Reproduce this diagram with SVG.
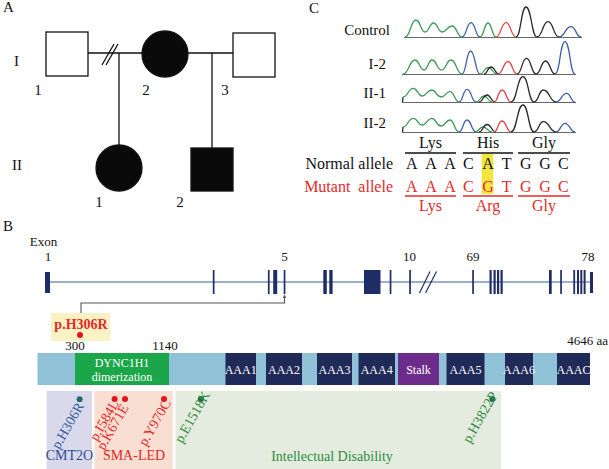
<svg xmlns="http://www.w3.org/2000/svg" width="609" height="469" viewBox="0 0 609 469" font-family="'Liberation Serif', 'Times New Roman', serif">
<style>
text{font-family:"Liberation Serif","Times New Roman",serif;}
.lbl{font-size:15px;fill:#111;}
.ped{stroke:#111;stroke-width:1.3;fill:none;}
.aff{fill:#0a0a0a;stroke:#111;stroke-width:1.3;}
.unaff{fill:#fff;stroke:#111;stroke-width:1.3;}
.tr path{fill:none;stroke-width:1.3;stroke-linejoin:round;}
.g{stroke:#3f9a5a;}
.b{stroke:#3e5fae;}
.r{stroke:#e0474a;}
.k{stroke:#2a2a2a;}
.base{stroke:#666;stroke-width:1.2;}
.seq{font-size:16px;text-anchor:middle;}
.exon{fill:#1f2d66;}
.dom{fill:#1f2a58;}
.wt{fill:#fff;font-size:12px;text-anchor:middle;}
.mut{font-size:14px;}
</style>

<!-- Panel A -->
<text x="3" y="12" class="lbl">A</text>
<text x="14" y="66" class="lbl">I</text>
<text x="12" y="170" class="lbl">II</text>
<g id="connectors-pedigree">
  <line x1="88" y1="53" x2="233" y2="53" class="ped"/>
  <line x1="102" y1="65" x2="114" y2="44" class="ped"/>
  <line x1="106" y1="65" x2="118" y2="44" class="ped"/>
  <line x1="119" y1="53" x2="119" y2="146" class="ped"/>
  <line x1="212" y1="53" x2="212" y2="148" class="ped"/>
</g>
<g id="I-1"><rect x="46" y="32" width="42" height="44" class="unaff"/><text x="38" y="95" class="lbl" text-anchor="middle">1</text></g>
<g id="I-2"><circle cx="165" cy="54" r="23" class="aff"/><text x="146" y="95" class="lbl" text-anchor="middle">2</text></g>
<g id="I-3"><rect x="233" y="33" width="42" height="44" class="unaff"/><text x="225" y="95" class="lbl" text-anchor="middle">3</text></g>
<g id="II-1"><circle cx="119" cy="168" r="23" class="aff"/><text x="99" y="207" class="lbl" text-anchor="middle">1</text></g>
<g id="II-2"><rect x="191" y="148" width="42" height="43" class="aff"/><text x="180" y="207" class="lbl" text-anchor="middle">2</text></g>

<!-- Panel C -->
<text x="309" y="13" class="lbl">C</text>
<g class="lbl" font-size="15" text-anchor="end">
  <text x="390" y="35" text-anchor="end">Control</text>
  <text x="386" y="69" text-anchor="end">I-2</text>
  <text x="386" y="98" text-anchor="end">II-1</text>
  <text x="386" y="128" text-anchor="end">II-2</text>
</g>
<g id="trace-control" class="tr">
  <line x1="404" y1="37.5" x2="582" y2="37.5" class="base"/>
  <path class="g" d="M405 37 C410.5 37 410.5 20 416 20 C420.5 20 420.5 32 425 32"/>
  <path class="g" d="M425 32 C429.3 32 429.3 23 433.5 23 C437.8 23 437.8 32 442 32"/>
  <path class="g" d="M442 32 C447 32 447 26 452 26 C457 26 457 37 462 37"/>
  <path class="b" d="M462 37 C466.5 37 466.5 22.7 471 22.7 C475.5 22.7 475.5 37 480 37"/>
  <path class="g" d="M480 37 C484 37 484 23 488 23 C492 23 492 37 496 37"/>
  <path class="r" d="M496 37 C501 37 501 22.7 506 22.7 C511 22.7 511 37 516 37"/>
  <path class="k" d="M516 37 C521 37 521 7 526 7 C531.5 7 531.5 37 537 37"/>
  <path class="k" d="M537 37 C542.5 37 542.5 21.7 548 21.7 C553.5 21.7 553.5 37 559 37"/>
  <path class="b" d="M559 37 C565 37 565 26.7 571 26.7 C576 26.7 576 37 581 37"/>
</g>
<g id="trace-I-2" class="tr">
  <line x1="402" y1="74.5" x2="576" y2="74.5" class="base"/>
  <path class="g" d="M403 74 C409 74 409 60 415 60 C419.5 60 419.5 70 424 70"/>
  <path class="g" d="M424 70 C428 70 428 60 432 60 C436.8 60 436.8 70 441.5 70"/>
  <path class="g" d="M441.5 70 C446.3 70 446.3 60 451 60 C456.5 60 456.5 74 462 74"/>
  <path class="b" d="M462 74 C466.3 74 466.3 51 470.5 51 C475.3 51 475.3 74 480 74"/>
  <path class="g" d="M480 74 C484 74 484 67.5 488 67.5 C492.5 67.5 492.5 74 497 74"/>
  <path class="k" d="M484 74 C487.5 74 487.5 67 491 67 C495 67 495 74 499 74"/>
  <path class="r" d="M498 74 C503 74 503 61.5 508 61.5 C512.5 61.5 512.5 74 517 74"/>
  <path class="k" d="M517 74 C521.8 74 521.8 58.3 526.5 58.3 C531.3 58.3 531.3 74 536 74"/>
  <path class="k" d="M536 74 C540.8 74 540.8 61 545.5 61 C550.3 61 550.3 74 555 74"/>
  <path class="b" d="M555 74 C560 74 560 41.7 565 41.7 C570 41.7 570 74 575 74"/>
</g>
<g id="trace-II-1" class="tr">
  <line x1="402" y1="102.5" x2="576" y2="102.5" class="base"/>
  <path class="k" d="M402.5 102 L403 97"/>
  <path class="g" d="M403 97 C408 97 408 88.3 413.3 88.3 C417.7 88.3 417.7 96 422 96"/>
  <path class="g" d="M422 96 C427 96 427 90 431.7 90 C436.3 90 436.3 97 441 97"/>
  <path class="g" d="M441 97 C445.5 97 445.5 91.7 450 91.7 C454.5 91.7 454.5 102 459 102"/>
  <path class="b" d="M459 102 C463 102 463 89.3 467 89.3 C471.5 89.3 471.5 102 476 102"/>
  <path class="g" d="M476 102 C480 102 480 96 484 96 C488 96 488 102 492 102"/>
  <path class="k" d="M479 102 C483 102 483 95 487 95 C491 95 491 102 495 102"/>
  <path class="r" d="M494 102 C498 102 498 90 502 90 C506.5 90 506.5 102 511 102"/>
  <path class="k" d="M511 102 C517 102 517 76.7 523 76.7 C528.5 76.7 528.5 102 534 102"/>
  <path class="k" d="M534 102 C538.7 102 538.7 90 543.3 90 C549.7 90 549.7 102 556 102"/>
  <path class="b" d="M556 102 C561.3 102 561.3 93.3 566.7 93.3 C570.9 93.3 570.9 102 575 102"/>
</g>
<g id="trace-II-2" class="tr">
  <line x1="402" y1="132.5" x2="576" y2="132.5" class="base"/>
  <path class="k" d="M402.5 132 L403 127"/>
  <path class="g" d="M403 127 C408 127 408 118.3 413.3 118.3 C417.7 118.3 417.7 125 422 125"/>
  <path class="g" d="M422 125 C427 125 427 118.3 431.7 118.3 C436.3 118.3 436.3 126 441 126"/>
  <path class="g" d="M441 126 C445.5 126 445.5 120 450 120 C454.5 120 454.5 132 459 132"/>
  <path class="b" d="M459 132 C463 132 463 120 467 120 C471.5 120 471.5 132 476 132"/>
  <path class="g" d="M475 132 C479 132 479 127 483 127 C487.5 127 487.5 132 492 132"/>
  <path class="k" d="M479 132 C483 132 483 124.5 487 124.5 C491.5 124.5 491.5 132 496 132"/>
  <path class="r" d="M494 132 C498 132 498 121 502 121 C506.5 121 506.5 132 511 132"/>
  <path class="k" d="M511 132 C517 132 517 105 523 105 C528.5 105 528.5 132 534 132"/>
  <path class="k" d="M534 132 C538.7 132 538.7 121.7 543.3 121.7 C549.7 121.7 549.7 132 556 132"/>
  <path class="b" d="M556 132 C560.5 132 560.5 123.3 565 123.3 C570 123.3 570 132 575 132"/>
</g>
<g id="codons">
  <rect x="481.7" y="153.5" width="11.6" height="40.5" fill="#f2e53e"/>
  <g class="seq" fill="#111">
    <text x="430.5" y="147.5">Lys</text>
    <text x="488" y="147.5">His</text>
    <text x="544" y="147.5">Gly</text>
  </g>
  <g stroke="#111" stroke-width="1.6">
    <line x1="405" y1="153" x2="456" y2="153"/>
    <line x1="463" y1="153" x2="513" y2="153"/>
    <line x1="518" y1="153" x2="570" y2="153"/>
  </g>
  <text x="393" y="169" font-size="16" text-anchor="end" fill="#111">Normal allele</text>
  <g class="seq" fill="#111">
    <text x="411.7" y="169">A</text><text x="431" y="169">A</text><text x="450" y="169">A</text>
    <text x="468.3" y="169">C</text><text x="488" y="169">A</text><text x="506.7" y="169">T</text>
    <text x="525.7" y="169">G</text><text x="545" y="169">G</text><text x="563.3" y="169">C</text>
  </g>
  <text x="393" y="191.5" font-size="16" text-anchor="end" fill="#e52a2a" xml:space="preserve">Mutant  allele</text>
  <g class="seq" fill="#e52a2a">
    <text x="411.7" y="191.5">A</text><text x="431" y="191.5">A</text><text x="450" y="191.5">A</text>
    <text x="468.3" y="191.5">C</text><text x="488" y="191.5">G</text><text x="506.7" y="191.5">T</text>
    <text x="525.7" y="191.5">G</text><text x="545" y="191.5">G</text><text x="563.3" y="191.5">C</text>
  </g>
  <g stroke="#e52a2a" stroke-width="1.6">
    <line x1="405" y1="196" x2="456" y2="196"/>
    <line x1="463" y1="196" x2="513" y2="196"/>
    <line x1="518" y1="196" x2="570" y2="196"/>
  </g>
  <g class="seq" fill="#e52a2a">
    <text x="430.5" y="210.5">Lys</text>
    <text x="488" y="210.5">Arg</text>
    <text x="544" y="210.5">Gly</text>
  </g>
</g>

<!-- Panel B -->
<text x="3" y="231" class="lbl">B</text>
<text x="43.5" y="245.5" font-size="13" text-anchor="middle" fill="#111">Exon</text>
<g font-size="13" text-anchor="middle" fill="#111">
  <text x="48" y="261">1</text>
  <text x="284.5" y="261">5</text>
  <text x="409.5" y="261">10</text>
  <text x="473" y="261">69</text>
  <text x="588" y="261">78</text>
</g>
<g id="gene">
  <line x1="47" y1="282" x2="591" y2="282" stroke="#7f8fbf" stroke-width="1.5"/>
  <rect class="exon" x="45" y="272" width="5" height="21"/>
  <rect class="exon" x="212.8" y="270" width="1.7" height="24"/>
  <rect class="exon" x="267.9" y="270" width="1.7" height="24"/>
  <rect class="exon" x="273.2" y="270" width="4" height="24"/>
  <rect class="exon" x="283.7" y="270" width="1.7" height="24"/>
  <rect class="exon" x="323.3" y="270" width="3.5" height="24"/>
  <rect class="exon" x="329.3" y="270" width="3.3" height="24"/>
  <rect class="exon" x="364" y="270" width="16.5" height="24"/>
  <rect class="exon" x="389.7" y="270" width="1.7" height="24"/>
  <rect class="exon" x="409.2" y="270" width="1.7" height="24"/>
  <line x1="419.5" y1="293" x2="430" y2="271.5" stroke="#1f2d66" stroke-width="1.2"/>
  <line x1="425.5" y1="293" x2="436.5" y2="271.5" stroke="#1f2d66" stroke-width="1.2"/>
  <rect class="exon" x="472.2" y="270" width="1.7" height="24"/>
  <rect class="exon" x="489.5" y="270" width="2.2" height="24"/>
  <rect class="exon" x="493.5" y="270" width="2.2" height="24"/>
  <rect class="exon" x="497" y="270" width="2.2" height="24"/>
  <rect class="exon" x="500.5" y="270" width="2.2" height="24"/>
  <rect class="exon" x="549" y="270" width="2.7" height="24"/>
  <rect class="exon" x="560.2" y="270" width="1.7" height="24"/>
  <rect class="exon" x="573.3" y="270" width="1.8" height="24"/>
  <rect class="exon" x="577" y="270" width="2" height="24"/>
  <rect class="exon" x="580.3" y="270" width="2" height="24"/>
  <rect class="exon" x="583.6" y="270" width="2" height="24"/>
  <rect class="exon" x="590" y="272" width="3" height="21"/>
</g>
<g id="connectors-gene">
  <polyline points="81,313 81,303 284.5,303 284.5,297" fill="none" stroke="#555" stroke-width="1.1"/>
  <path d="M282.8 298 L284.5 294.5 L286.2 298 Z" fill="#555"/>
</g>
<g id="p.H306R-label">
  <rect x="51" y="313" width="59" height="28" fill="#fbf2c3"/>
  <text x="81" y="329" font-size="14" font-weight="bold" text-anchor="middle" fill="#e52a2a">p.H306R</text>
  <circle cx="80" cy="335" r="3" fill="#e3151b"/>
</g>
<g font-size="13" text-anchor="middle" fill="#111">
  <text x="75" y="350">300</text>
  <text x="165" y="350">1140</text>
  <text x="608" y="345" text-anchor="end">4646 aa</text>
</g>
<g id="protein">
  <rect x="37.5" y="353" width="552.5" height="32" fill="#8fc2d6"/>
  <rect x="75" y="353" width="94" height="32" fill="#1ba64a"/>
  <text x="122" y="367" class="wt">DYNC1H1</text>
  <text x="122" y="381" class="wt">dimerization</text>
  <rect class="dom" x="225.5" y="353" width="30.5" height="32"/><text class="wt" x="240.7" y="374">AAA1</text>
  <rect class="dom" x="266" y="353" width="36" height="32"/><text class="wt" x="284" y="374">AAA2</text>
  <rect class="dom" x="317" y="353" width="35" height="32"/><text class="wt" x="334.5" y="374">AAA3</text>
  <rect class="dom" x="358.5" y="353" width="36.5" height="32"/><text class="wt" x="376.7" y="374">AAA4</text>
  <rect x="398" y="353" width="41" height="32" fill="#6b2c8c"/><text class="wt" x="418.5" y="374">Stalk</text>
  <rect class="dom" x="446.5" y="353" width="38" height="32"/><text class="wt" x="465.5" y="374">AAA5</text>
  <rect class="dom" x="505" y="353" width="28" height="32"/><text class="wt" x="519" y="374">AAA6</text>
  <rect class="dom" x="557" y="353" width="33" height="32"/><text class="wt" x="573.5" y="374">AAAC</text>
</g>
<g id="CMT2O">
  <rect x="46.6" y="391" width="45.4" height="78" fill="#dad9ec"/>
  <circle cx="79.6" cy="399.3" r="3" fill="#1d6b6b"/>
  <text class="mut" fill="#2f5b9c" transform="translate(59,450) rotate(-60)">p.H306R</text>
  <text x="69.5" y="460" font-size="14" text-anchor="middle" fill="#2b4c94">CMT2O</text>
</g>
<g id="SMA-LED">
  <rect x="94.4" y="391" width="78.4" height="78" fill="#f9ded2"/>
  <circle cx="114.6" cy="399" r="3" fill="#e3151b"/>
  <circle cx="125" cy="399" r="3" fill="#e3151b"/>
  <circle cx="164" cy="399" r="3" fill="#e3151b"/>
  <text class="mut" fill="#e52a2a" transform="translate(97,442) rotate(-60)">p.I584L</text>
  <text class="mut" fill="#e52a2a" transform="translate(104,451) rotate(-60)">p.K671E</text>
  <text class="mut" fill="#e52a2a" transform="translate(146,447) rotate(-60)">p.Y970C</text>
  <text x="134" y="460" font-size="14" text-anchor="middle" fill="#e52a2a">SMA-LED</text>
</g>
<g id="Intellectual-Disability">
  <rect x="175.5" y="391" width="325.5" height="78" fill="#e3ecdf"/>
  <circle cx="200.8" cy="399" r="3" fill="#1d6e50"/>
  <circle cx="492.4" cy="399" r="3" fill="#1d6e50"/>
  <text class="mut" fill="#2e8b3e" transform="translate(182,444) rotate(-60)">p.E1518K</text>
  <text class="mut" fill="#2e8b3e" transform="translate(470,444) rotate(-60)">p.H3822P</text>
  <text x="332" y="461" font-size="14" text-anchor="middle" fill="#2e8c3c">Intellectual Disability</text>
</g>
</svg>
